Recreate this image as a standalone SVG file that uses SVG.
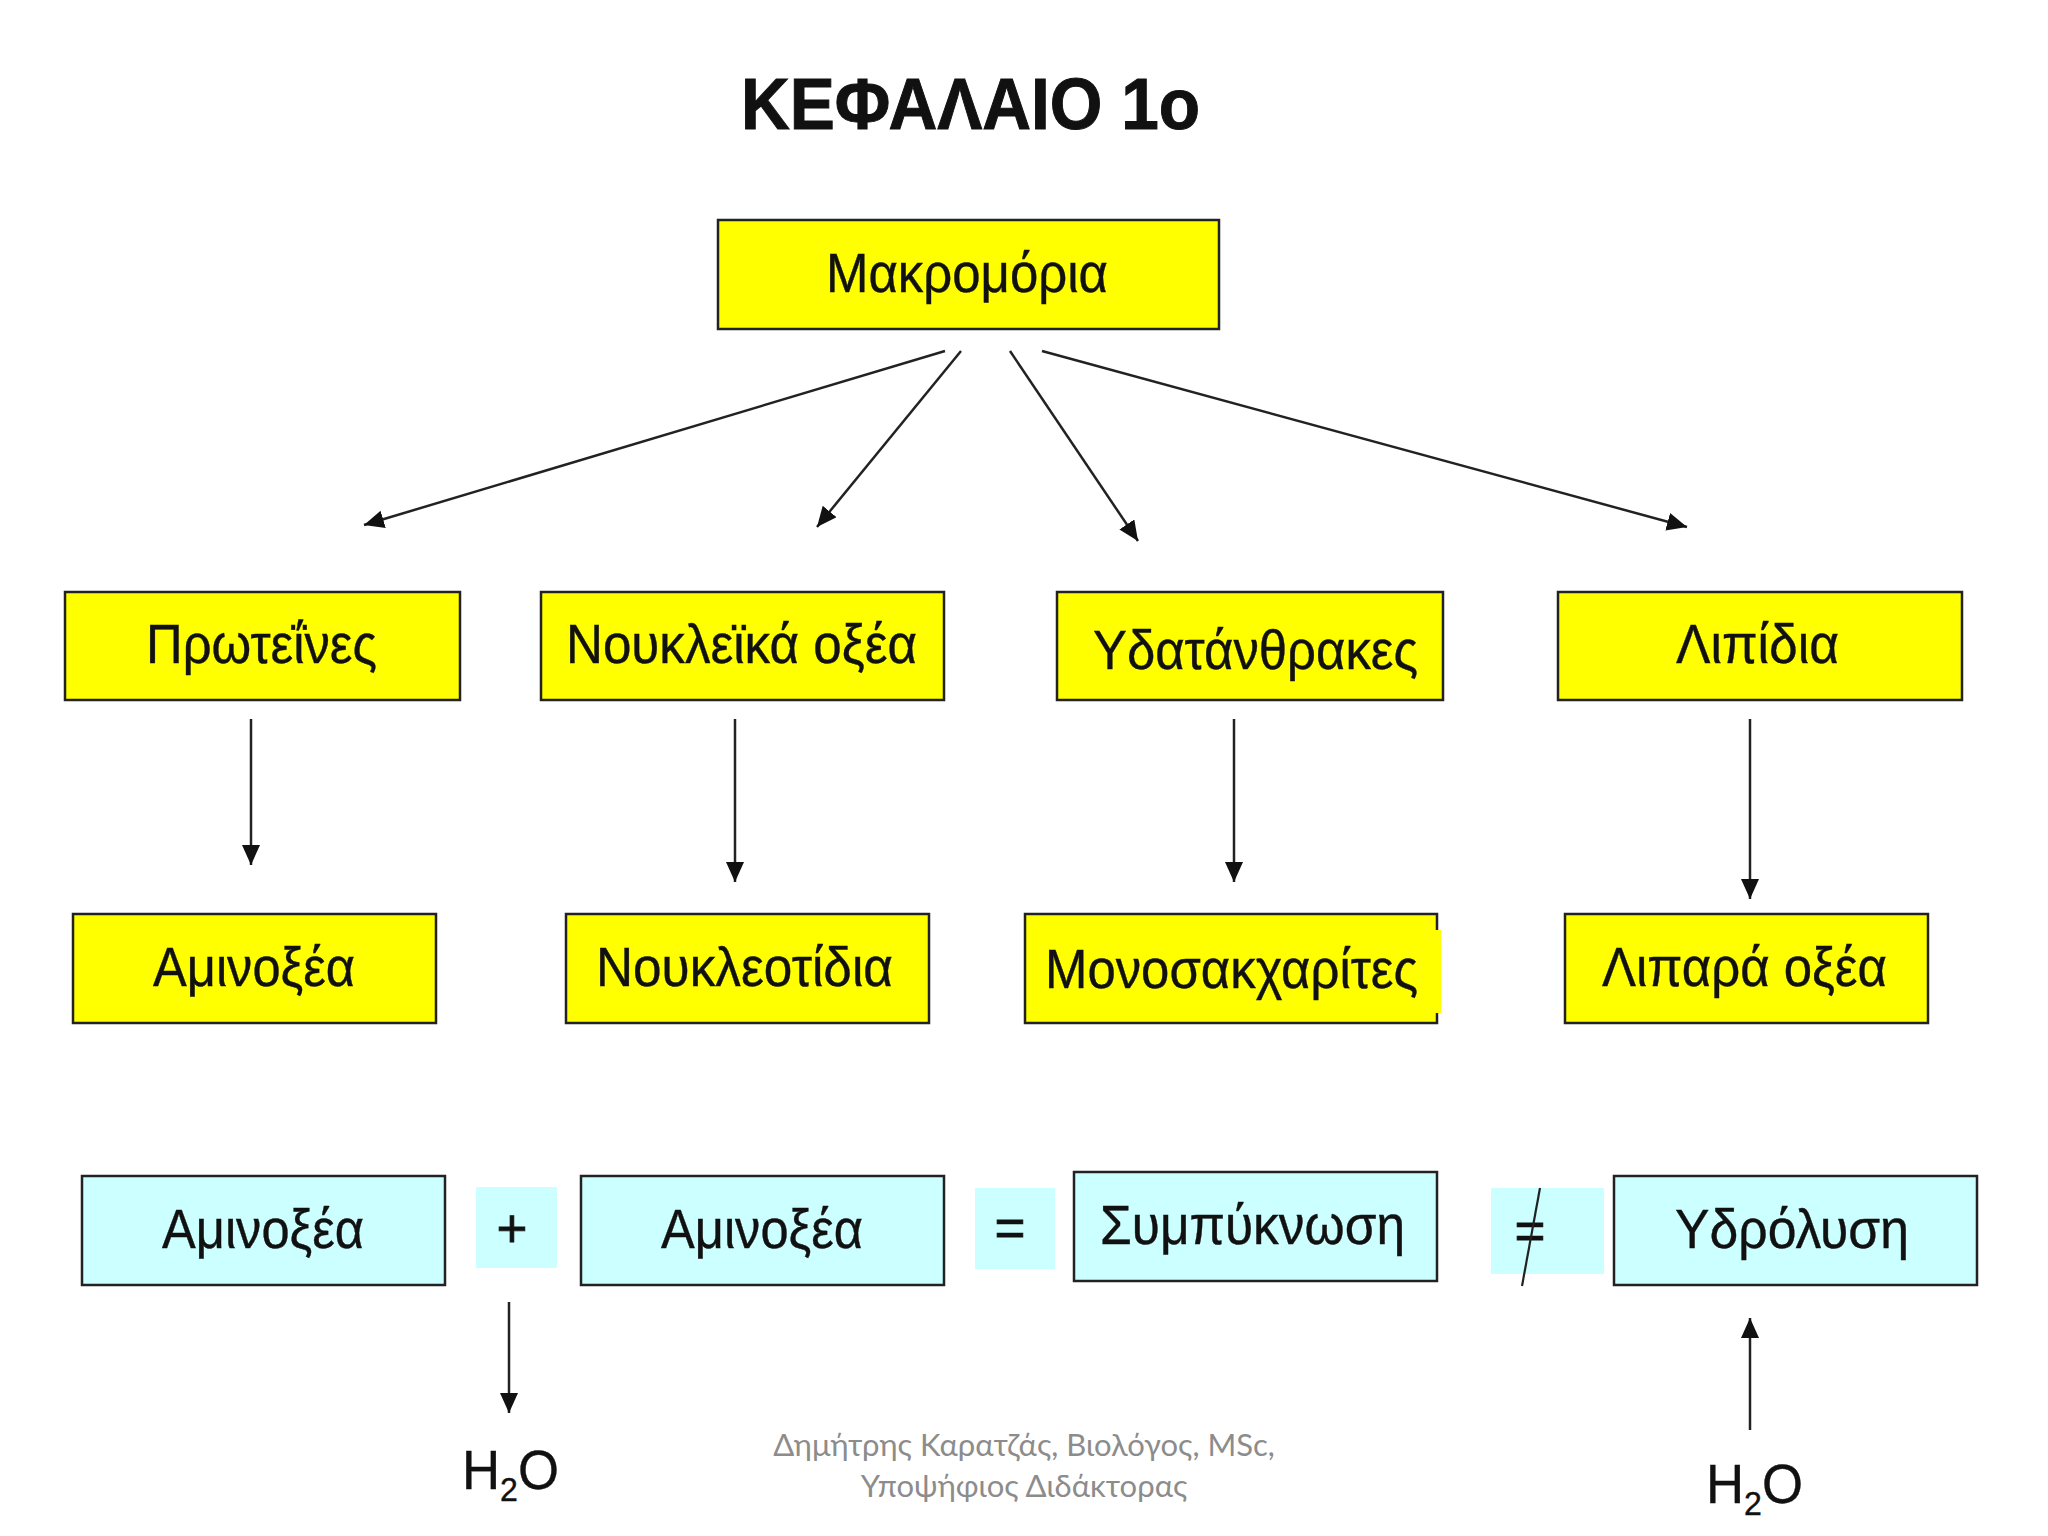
<svg xmlns="http://www.w3.org/2000/svg" width="2048" height="1536" viewBox="0 0 2048 1536">
<style>
text{font-family:"Liberation Sans",Arial,sans-serif;fill:#111}
.l{font-size:56px;stroke:#111;stroke-width:.4}
.m{font-size:53px;text-anchor:middle;stroke:#111;stroke-width:.8}
.y{fill:#ffff00;stroke:#222;stroke-width:2.5}
.c{fill:#ccffff;stroke:#222;stroke-width:2.5}
.s{fill:#ccffff}
.a{stroke:#222;stroke-width:2.5;fill:none;marker-end:url(#h)}
.f{font-family:Lato,"Open Sans",sans-serif;font-size:31px;fill:#8c8c8c;text-anchor:middle}
</style>
<defs><marker id="h" markerUnits="userSpaceOnUse" markerWidth="22" markerHeight="20" refX="20" refY="9" orient="auto"><path d="M0 0L20 9L0 18Z" fill="#111"/></marker></defs>
<rect width="2048" height="1536" fill="#fff"/>
<g id="title"><text x="741" y="129" font-size="73" font-weight="bold" textLength="459" lengthAdjust="spacingAndGlyphs" stroke="#111" stroke-width="1">ΚΕΦΑΛΑΙΟ 1ο</text></g>
<g id="n-makromoria"><rect class="y" x="718" y="220" width="501" height="109"/><text class="l" x="826" y="292" textLength="282" lengthAdjust="spacingAndGlyphs">Μακρομόρια</text></g>
<g id="n-proteines"><rect class="y" x="65" y="592" width="395" height="108"/><text class="l" x="146" y="663" textLength="231" lengthAdjust="spacingAndGlyphs">Πρωτεΐνες</text></g>
<g id="n-nouklei"><rect class="y" x="541" y="592" width="403" height="108"/><text class="l" x="566" y="663" textLength="351" lengthAdjust="spacingAndGlyphs">Νουκλεϊκά οξέα</text></g>
<g id="n-ydat"><rect class="y" x="1057" y="592" width="386" height="108"/><text class="l" x="1093" y="669" textLength="325" lengthAdjust="spacingAndGlyphs">Υδατάνθρακες</text></g>
<g id="n-lipidia"><rect class="y" x="1558" y="592" width="404" height="108"/><text class="l" x="1676" y="663" textLength="163" lengthAdjust="spacingAndGlyphs">Λιπίδια</text></g>
<g id="n-amino1"><rect class="y" x="73" y="914" width="363" height="109"/><text class="l" x="153" y="986" textLength="202" lengthAdjust="spacingAndGlyphs">Αμινοξέα</text></g>
<g id="n-nukleot"><rect class="y" x="566" y="914" width="363" height="109"/><text class="l" x="596" y="986" textLength="297" lengthAdjust="spacingAndGlyphs">Νουκλεοτίδια</text></g>
<g id="n-mono"><rect class="y" x="1025" y="914" width="412" height="109"/><rect x="1434" y="930" width="7" height="83" fill="#ffff00"/><text class="l" x="1045" y="988" textLength="373" lengthAdjust="spacingAndGlyphs">Μονοσακχαρίτες</text></g>
<g id="n-lipara"><rect class="y" x="1565" y="914" width="363" height="109"/><text class="l" x="1602" y="986" textLength="285" lengthAdjust="spacingAndGlyphs">Λιπαρά οξέα</text></g>
<g id="n-amino2"><rect class="c" x="82" y="1176" width="363" height="109"/><text class="l" x="162" y="1248" textLength="202" lengthAdjust="spacingAndGlyphs">Αμινοξέα</text></g>
<g id="n-plus"><rect class="s" x="476" y="1187" width="81" height="81"/><text class="m" x="512" y="1247">+</text></g>
<g id="n-amino3"><rect class="c" x="581" y="1176" width="363" height="109"/><text class="l" x="661" y="1248" textLength="202" lengthAdjust="spacingAndGlyphs">Αμινοξέα</text></g>
<g id="n-eq"><rect class="s" x="975" y="1188" width="80" height="81"/><text class="m" x="1010" y="1246">=</text></g>
<g id="n-symp"><rect class="c" x="1074" y="1172" width="363" height="109"/><text class="l" x="1100" y="1244" textLength="305" lengthAdjust="spacingAndGlyphs">Συμπύκνωση</text></g>
<g id="n-neq"><rect class="s" x="1491" y="1188" width="113" height="86"/><text class="m" x="1530" y="1249">=</text><line x1="1540" y1="1188" x2="1522" y2="1286" stroke="#222" stroke-width="2.2"/></g>
<g id="n-ydrolysi"><rect class="c" x="1614" y="1176" width="363" height="109"/><text class="l" x="1675" y="1248" textLength="234" lengthAdjust="spacingAndGlyphs">Υδρόλυση</text></g>
<g id="n-h2o1"><text class="l" x="462" y="1489" textLength="97" lengthAdjust="spacingAndGlyphs">H<tspan font-size="34" dy="12">2</tspan><tspan dy="-12">O</tspan></text></g>
<g id="n-h2o2"><text class="l" x="1706" y="1503" textLength="97" lengthAdjust="spacingAndGlyphs">H<tspan font-size="34" dy="12">2</tspan><tspan dy="-12">O</tspan></text></g>
<g id="footer"><text class="f" x="1024" y="1456">Δημήτρης Καρατζάς, Βιολόγος, MSc,</text><text class="f" x="1024" y="1497">Υποψήφιος Διδάκτορας</text></g>
<g id="connectors">
<line class="a" x1="945" y1="351" x2="364" y2="525"/>
<line class="a" x1="961" y1="351" x2="817" y2="527"/>
<line class="a" x1="1010" y1="351" x2="1138" y2="541"/>
<line class="a" x1="1042" y1="351" x2="1687" y2="527"/>
<line class="a" x1="251" y1="719" x2="251" y2="865"/>
<line class="a" x1="735" y1="719" x2="735" y2="882"/>
<line class="a" x1="1234" y1="719" x2="1234" y2="882"/>
<line class="a" x1="1750" y1="719" x2="1750" y2="899"/>
<line class="a" x1="509" y1="1302" x2="509" y2="1413"/>
<line class="a" x1="1750" y1="1430" x2="1750" y2="1318"/>
</g>
</svg>
